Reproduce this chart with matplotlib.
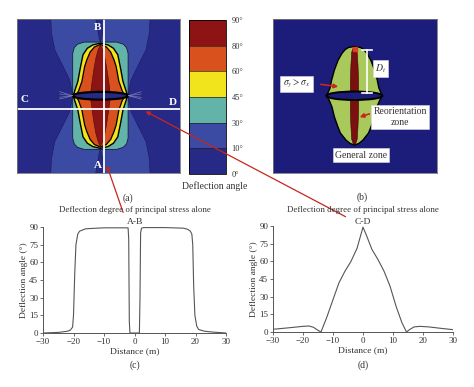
import numpy as np
import matplotlib
matplotlib.use('Agg')
import matplotlib.pyplot as plt
from matplotlib.colors import ListedColormap, BoundaryNorm
from matplotlib.patches import Ellipse, FancyArrowPatch
import matplotlib as mpl

plt.rcParams['font.family'] = ['Liberation Serif', 'DejaVu Serif']
plt.rcParams['mathtext.fontset'] = 'stix'

W, H = 474, 387

# colour levels of the deflection angle map
levels = [0, 10, 30, 45, 60, 80, 90]
level_labels = ['0°', '10°', '30°', '45°', '60°', '80°', '90°']
level_colors = ['#262a86', '#3b4ba3', '#62b4a8', '#f2e41c', '#d9521e', '#8c1414']

# half-width profiles (m) of each zone in panel (a), upper half, mirrored below
blue_v = [0, 1, 6.2, 11.4, 17.9, 24.5, 30.5]
blue_hw = [10.0, 10.3, 11.3, 13.7, 16.8, 18.0, 18.3]
wedge_v = [20.9, 22, 25, 30.5]
wedge_hw = [0, 0.4, 0.9, 1.8]
cyan_v = [0, 1, 16.5, 18.8, 20.1, 20.9]
cyan_hw = [9.9, 10.2, 10.2, 9.6, 8.4, 6.0]
yellow_v = [0, 1.7, 5.6, 10.8, 16, 18.5, 19.8, 20.5]
yellow_hw = [10.0, 9.5, 8.3, 7.4, 6.4, 4.8, 2.8, 0]
orange_v = [0, 2, 5.6, 11.4, 14, 17, 19, 20]
orange_hw = [9.0, 8.0, 6.8, 5.8, 5.0, 3.8, 2.2, 0]
red_v = [0, 2, 6, 11, 15, 18, 19.8]
red_hw = [3.6, 3.5, 3.0, 2.3, 1.6, 0.8, 0]

# panel (b) zones
green_up_v = [0, 1.5, 3, 6.1, 10, 13.9, 16.5, 18.0, 18.8, 19.2]
green_up_hw = [10.3, 9.6, 9.0, 8.4, 7.4, 6.0, 4.6, 3.4, 2.2, 0]
green_dn_v = [0, -1.5, -4.3, -8.2, -12.1, -14.5, -17.3, -18.6, -19.2]
green_dn_hw = [10.3, 9.4, 8.3, 7.4, 6.1, 5.2, 3.1, 1.6, 0]
band_v = [0, 2, 6, 12, 17, 18.8]
band_hw = [1.6, 1.5, 1.5, 1.3, 1.0, 0.4]

# line profiles
c_x = [-30, -25, -22, -21, -20.3, -20, -19.6, -19.2, -18.6, -18, -16, -10, -3, -2.1, -1.9, -1.7, -1.5, 0,
       1.6, 1.8, 2.0, 2.3, 3, 10, 16, 17.5, 18.3, 18.8, 19.1, 19.4, 19.8, 20.4, 21, 23, 26, 30]
c_y = [0, 0.5, 1.5, 2.5, 5, 15, 50, 75, 84, 86.5, 88.5, 89.3, 89.3, 89.2, 80, 10, 0, 0,
       0, 30, 85, 89, 89.5, 89.5, 89, 88, 86.5, 84, 75, 40, 15, 6, 3, 1.5, 0.7, 0]
d_x = [-30, -25, -20, -18, -16.5, -15, -14, -12, -10, -8, -6, -4, -2, -1, 0, 1, 3, 5, 7, 9, 11, 13,
       14.5, 15.5, 17, 19, 22, 26, 30]
d_y = [2.3, 3.5, 4.8, 5.1, 4.0, 1.4, 0, 13, 27.5, 41.8, 51.7, 60, 71, 80, 89, 83, 70, 61.5, 51.7, 39, 22, 7.7,
       0, 2, 4.3, 4.8, 4.3, 3.1, 2]


def box(x0, y0, x1, y1):
    return [x0 / W, 1 - y1 / H, (x1 - x0) / W, (y1 - y0) / H]


def fpos(x, y):
    return (x / W, 1 - y / H)


def lens(v_up, hw_up, v_dn=None, hw_dn=None):
    v_up, hw_up = np.asarray(v_up, float), np.asarray(hw_up, float)
    if v_dn is None:
        v_dn, hw_dn = -v_up, hw_up
    v_dn, hw_dn = np.asarray(v_dn, float), np.asarray(hw_dn, float)
    xs = np.concatenate([hw_dn[::-1], hw_up, -hw_up[::-1], -hw_dn])
    ys = np.concatenate([v_dn[::-1], v_up, v_up[::-1], v_dn])
    return xs, ys


fig = plt.figure(figsize=(W / 100, H / 100), dpi=100)

# ---- panel (a)
ax = fig.add_axes(box(17, 19, 180, 173))
ax.set_facecolor(level_colors[0])
ax.set_xlim(-30.7, 29.3)
ax.set_ylim(-30.1, 29.9)
ax.set_xticks([])
ax.set_yticks([])
for s in ax.spines.values():
    s.set_color('#777777')
    s.set_linewidth(0.6)

xs, ys = lens(blue_v, blue_hw)
ax.fill(xs, ys, fc=level_colors[1], ec='#1a1a55', lw=0.4)
wv = np.asarray(wedge_v)
whw = np.asarray(wedge_hw)
for sgn in (1, -1):
    ax.fill(np.concatenate([-whw[::-1], whw]), sgn * np.concatenate([wv[::-1], wv]),
            fc=level_colors[0], ec='#1a1a55', lw=0.4)
xs, ys = lens(cyan_v, cyan_hw)
ax.fill(xs, ys, fc=level_colors[2], ec='#1a1a40', lw=0.6)
xs, ys = lens(yellow_v, yellow_hw)
ax.fill(xs, ys, fc=level_colors[3], ec='black', lw=1.0)
xs, ys = lens(orange_v, orange_hw)
ax.fill(xs, ys, fc=level_colors[4], ec='black', lw=0.9)
xs, ys = lens(red_v, red_hw)
ax.fill(xs, ys, fc=level_colors[5], ec='#4a0a0a', lw=0.4)
ax.add_patch(Ellipse((0, 0), 20.4, 3.0, fc=level_colors[0], ec='black', lw=1.6))
for sgn in (1, -1):
    for dv in (1.6, 0.7, -0.6, -1.3):
        ax.plot([sgn * 10.3, sgn * 15], [0, dv], color='#8a8ac0', lw=0.4)
ax.axvline(1.3, color='white', lw=1.3)
ax.axhline(-5.2, color='white', lw=1.3)
lab = dict(color='white', fontsize=8, fontweight='bold', ha='center', va='center')
ax.text(-1.1, 26.5, 'B', **lab)
ax.text(-1.1, -27.3, 'A', **lab)
ax.text(-28.0, -1.6, 'C', **lab)
ax.text(26.7, -2.6, 'D', **lab)

# colour bar
cax = fig.add_axes(box(189, 20, 226, 174))
cb = mpl.colorbar.ColorbarBase(cax, cmap=ListedColormap(level_colors),
                               norm=BoundaryNorm(levels, len(level_colors)),
                               boundaries=levels, spacing='uniform', ticks=levels,
                               drawedges=True)
cb.set_ticklabels(level_labels)
cb.outline.set_linewidth(0.6)
cb.dividers.set_color('#222222')
cb.dividers.set_linewidth(0.5)
cax.tick_params(length=0, pad=4, labelsize=6, labelcolor='#333333')
fig.text(*fpos(215, 186), 'Deflection angle', fontsize=7, ha='center', va='center', color='#333333')
fig.text(*fpos(128, 198), '(a)', fontsize=7, ha='center', va='center', color='#333333')

# ---- panel (b)
bx = fig.add_axes(box(273, 19, 437, 173))
bx.set_facecolor('#1c1c7a')
bx.set_xlim(-30.0, 30.4)
bx.set_ylim(-30.1, 29.9)
bx.set_xticks([])
bx.set_yticks([])
for s in bx.spines.values():
    s.set_color('#777777')
    s.set_linewidth(0.6)
xs, ys = lens(green_up_v, green_up_hw, green_dn_v, green_dn_hw)
bx.fill(xs, ys, fc='#a9c95a', ec='black', lw=1.0)
xs, ys = lens(band_v, band_hw)
bx.fill(xs, ys, fc='#7a1010', ec='#3a0505', lw=0.4)
bx.add_patch(Ellipse((0, 0), 20.6, 3.3, fc='#1c1c7a', ec='black', lw=1.4))
bx.plot([0.3], [18.3], 's', color='#e04020', ms=2.5)
bx.plot([4.5, 4.5], [17.8, 0.9], color='white', lw=1.2)
bx.plot([2.7, 6.3], [17.8, 17.8], color='white', lw=1.2)
bx.plot([2.7, 6.3], [0.9, 0.9], color='white', lw=1.2)

tb = dict(fontsize=7, ha='center', va='center', color='#333333',
          bbox=dict(boxstyle='square,pad=0.25', fc='white', ec='#dddddd', lw=0.4))
fig.text(*fpos(380.5, 68.5), '$D_t$', **tb)
fig.text(*fpos(296.5, 84), r'$\sigma_y > \sigma_x$', **tb)
fig.text(*fpos(400, 117), 'Reorientation\nzone', linespacing=1.3, **tb)
fig.text(*fpos(361, 155), 'General zone', **tb)
fig.text(*fpos(362, 197), '(b)', fontsize=7, ha='center', va='center', color='#333333')

red = '#c8261c'
for p0, p1 in [((318, 84), (341, 87)), ((372, 113), (357, 118))]:
    fig.add_artist(FancyArrowPatch(fpos(*p0), fpos(*p1), transform=fig.transFigure,
                                   arrowstyle='-|>', mutation_scale=6, color=red, lw=1.2))


# ---- line panels
def line_panel(rect, x, y, name, tag, tag_x):
    a = fig.add_axes(box(*rect))
    a.plot(x, y, color='#555555', lw=0.8)
    a.set_xlim(-30, 30)
    a.set_ylim(0, 90)
    a.set_xticks([-30, -20, -10, 0, 10, 20, 30])
    a.set_yticks([0, 15, 30, 45, 60, 75, 90])
    a.set_xticklabels(['\u221230', '\u221220', '\u221210', '0', '10', '20', '30'])
    a.spines['top'].set_visible(False)
    a.spines['right'].set_visible(False)
    for s in ('left', 'bottom'):
        a.spines[s].set_color('#555555')
        a.spines[s].set_linewidth(0.7)
    a.tick_params(labelsize=6.5, length=2, width=0.6, pad=1.5, color='#555555', labelcolor='#333333')
    a.set_xlabel('Distance (m)', fontsize=6.8, labelpad=1, color='#333333')
    a.set_ylabel('Deflection angle (°)', fontsize=6.8, labelpad=1, color='#333333')
    fig.text(*fpos(tag_x, 210), 'Deflection degree of principal stress alone', fontsize=6.4,
             ha='center', va='center', color='#333333')
    fig.text(*fpos(tag_x, 222), name, fontsize=6.8, ha='center', va='center', color='#333333')
    fig.text(*fpos(tag_x, 365), tag, fontsize=7, ha='center', va='center', color='#333333')
    return a


line_panel((43, 227, 226, 333), c_x, c_y, 'A-B', '(c)', 135)
line_panel((273, 226, 453, 332), d_x, d_y, 'C-D', '(d)', 363)

# red arrows linking panels
for p0, p1 in [((124, 215), (106, 163)), ((348, 218), (143, 110))]:
    fig.add_artist(FancyArrowPatch(fpos(*p0), fpos(*p1), transform=fig.transFigure,
                                   arrowstyle='-|>', mutation_scale=6, color=red, lw=0.9))

fig.savefig('out.png', dpi=100)
